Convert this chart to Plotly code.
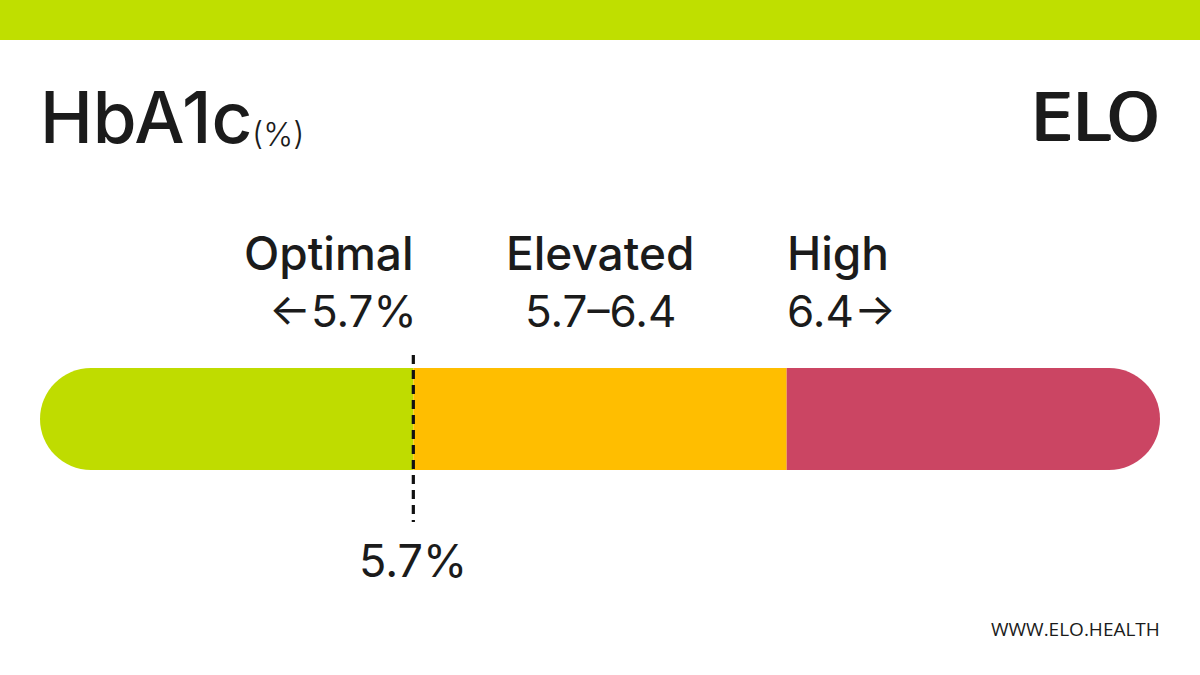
import plotly.graph_objects as go

# ---- data ----
categories = ["Optimal", "Elevated", "High"]
range_labels = ["\u2190" + "5.7%", "5.7\u20136.4", "6.4\u2192"]
seg_start = [0, 1, 2]
seg_width = [1, 1, 1]
seg_colors = ["#BFDC00", "#FFBE00", "#CB4563"]
marker_pos = 1.0
marker_label = "5.7%"

W, H = 1200, 675
BAR_L, BAR_R = 40, 1160
px_per_unit = (BAR_R - BAR_L) / 3
x_range = [-BAR_L / px_per_unit, 3 + (W - BAR_R) / px_per_unit]

BAR_Y, BAR_H = 419, 102
R = BAR_H / 2
TXT = "#1b1b1b"
FONT = "Inter"
K = 0.5523


def seg_path(x0, x1, round_left, round_right):
    rx = R / px_per_unit
    yt, yb, yc = BAR_Y - R, BAR_Y + R, BAR_Y
    p = []
    if round_left:
        p.append(f"M {x0 + rx},{yt}")
    else:
        p.append(f"M {x0},{yt}")
    if round_right:
        p.append(f"L {x1 - rx},{yt}")
        p.append(f"C {x1 - rx + K * rx},{yt} {x1},{yc - K * R} {x1},{yc}")
        p.append(f"C {x1},{yc + K * R} {x1 - rx + K * rx},{yb} {x1 - rx},{yb}")
    else:
        p.append(f"L {x1},{yt}")
        p.append(f"L {x1},{yb}")
    if round_left:
        p.append(f"L {x0 + rx},{yb}")
        p.append(f"C {x0 + rx - K * rx},{yb} {x0},{yc + K * R} {x0},{yc}")
        p.append(f"C {x0},{yc - K * R} {x0 + rx - K * rx},{yt} {x0 + rx},{yt}")
    else:
        p.append(f"L {x0},{yb}")
    p.append("Z")
    return " ".join(p)


shapes = [dict(type="rect", xref="paper", yref="paper", x0=0, x1=1, y0=1 - 40 / H, y1=1,
               fillcolor="#BFDF00", line_width=0, layer="below")]
n = len(categories)
for i, (s, w, col) in enumerate(zip(seg_start, seg_width, seg_colors)):
    shapes.append(dict(type="path", xref="x", yref="y",
                       path=seg_path(s, s + w, i == 0, i == n - 1),
                       fillcolor=col, line_width=0, layer="below"))

fig = go.Figure()

# dashed marker line
fig.add_trace(go.Scatter(x=[marker_pos, marker_pos], y=[355, 522], mode="lines",
                         line=dict(color="#111111", width=3.2, dash="9px,6px"),
                         hoverinfo="skip", showlegend=False))

ann = []
anchors = ["right", "center", "left"]
xs = [seg_start[0] + seg_width[0], seg_start[1] + seg_width[1] / 2, seg_start[2]]
name_shift = [3, 0, -2]
range_shift = [6, 0, -2]
for c, r, a, x, ns, rs in zip(categories, range_labels, anchors, xs, name_shift, range_shift):
    ann.append(dict(x=x, y=253, xref="x", yref="y", text=c, showarrow=False, xanchor=a, yanchor="middle",
                    xshift=ns, font=dict(family=FONT, size=46, color=TXT, weight=500)))
    ann.append(dict(x=x, y=311, xref="x", yref="y", text=r, showarrow=False, xanchor=a, yanchor="middle",
                    xshift=rs, font=dict(family=FONT, size=44, color=TXT, weight=400)))

ann.append(dict(x=marker_pos, y=560, xref="x", yref="y", text=marker_label, showarrow=False,
                xanchor="center", yanchor="middle", font=dict(family=FONT, size=45, color=TXT, weight=400)))

# title
ann.append(dict(x=38 / W, y=1 - 117 / H, xref="paper", yref="paper", text="HbA1c", showarrow=False,
                xanchor="left", yanchor="middle", font=dict(family=FONT, size=71, color=TXT, weight=500)))
ann.append(dict(x=250 / W, y=1 - 134 / H, xref="paper", yref="paper", text="(%)", showarrow=False,
                xanchor="left", yanchor="middle", font=dict(family=FONT, size=32, color=TXT, weight=300)))
# logo
ann.append(dict(x=1161 / W, y=1 - 118 / H, xref="paper", yref="paper", text="ELO", showarrow=False,
                xanchor="right", yanchor="middle",
                font=dict(family="DejaVu Sans", size=66, color=TXT, weight=400,
                          shadow="1.5px 0px 0px #1b1b1b, -1px 0px 0px #1b1b1b, 0px 1px 0px #1b1b1b")))
# url
ann.append(dict(x=1162 / W, y=1 - 629 / H, xref="paper", yref="paper", text="WWW.ELO.HEALTH", showarrow=False,
                xanchor="right", yanchor="middle", font=dict(family="Open Sans", size=19, color=TXT, weight=400)))

fig.update_layout(
    width=W, height=H, margin=dict(l=0, r=0, t=0, b=0),
    paper_bgcolor="white", plot_bgcolor="white",
    xaxis=dict(range=x_range, visible=False, fixedrange=True),
    yaxis=dict(range=[H, 0], visible=False, fixedrange=True),
    shapes=shapes, annotations=ann,
)

fig.write_html("out.html", config={"displayModeBar": False},
               post_script="document.body.style.margin='0';")
